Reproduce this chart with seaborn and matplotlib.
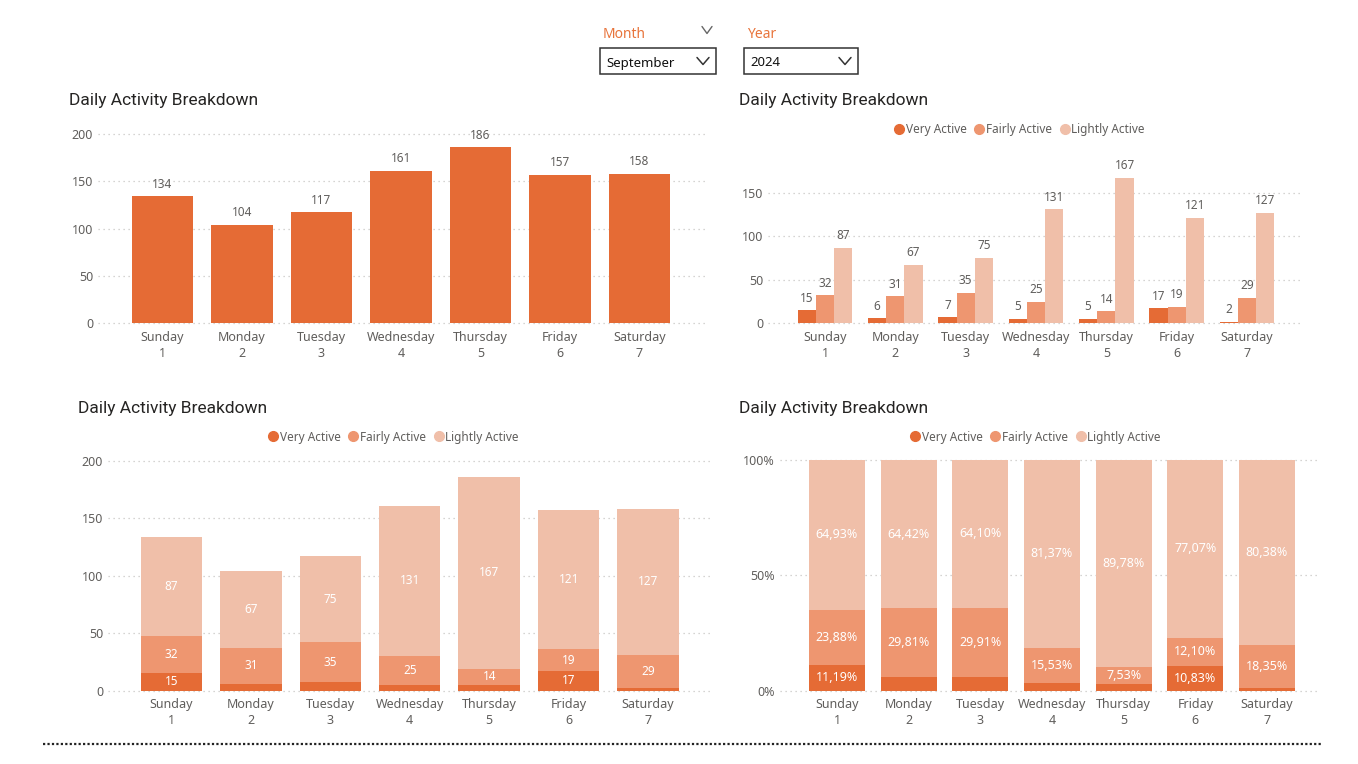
import numpy as np
import pandas as pd
import matplotlib
matplotlib.use("Agg")
import matplotlib.pyplot as plt
from matplotlib.lines import Line2D
from matplotlib.patches import Rectangle
import seaborn as sns

# ---------------- data ----------------
days = ["Sunday", "Monday", "Tuesday", "Wednesday", "Thursday", "Friday", "Saturday"]
day_nums = ["1", "2", "3", "4", "5", "6", "7"]
very_active = [15, 6, 7, 5, 5, 17, 2]
fairly_active = [32, 31, 35, 25, 14, 19, 29]
lightly_active = [87, 67, 75, 131, 167, 121, 127]
series_names = ["Very Active", "Fairly Active", "Lightly Active"]
month_value = "September"
year_value = "2024"

totals = [v + f + l for v, f, l in zip(very_active, fairly_active, lightly_active)]
tick_labels = [f"{d}\n{n}" for d, n in zip(days, day_nums)]

C_VERY = "#E56B35"
C_FAIR = "#EE9670"
C_LIGHT = "#F0BFA9"
palette = [C_VERY, C_FAIR, C_LIGHT]
TXT = "#605E5C"

sns.set_theme(style="white")
plt.rcParams["font.family"] = ["Noto Sans", "DejaVu Sans"]

W, H = 1358, 764
fig = plt.figure(figsize=(W / 100, H / 100), dpi=100)
fig.patch.set_facecolor("white")


def px_axes(left, top, right, bottom):
    return fig.add_axes([left / W, 1 - bottom / H, (right - left) / W, (bottom - top) / H])


def setup(ax, left, right, c0, c6, y0px, toppx, bottompx, scale_units, scale_px):
    sp = (c6 - c0) / 6.0
    ax.set_xlim((left - c0) / sp, (right - c0) / sp)
    per = scale_px / scale_units
    ax.set_ylim((y0px - bottompx) / per, (y0px - toppx) / per)
    for s in ax.spines.values():
        s.set_visible(False)
    ax.set_facecolor("none")
    ax.grid(axis="y", color="#C8C6C4", linestyle=(0, (1, 3)), linewidth=0.9)
    ax.grid(axis="x", visible=False)
    ax.set_axisbelow(True)
    ax.tick_params(axis="both", length=0, colors=TXT, labelsize=9)
    ax.tick_params(axis="x", pad=0.5)
    ax.set_xticks(range(7))
    ax.set_xticklabels(tick_labels, linespacing=1.35)
    ax.set_xlabel("")
    ax.set_ylabel("")


def title(x, y, s):
    fig.text(x / W, 1 - y / H, s, fontsize=12.5, color="#252423", va="center", ha="left",
             family=["Roboto", "DejaVu Sans"])


def legend(ax, cx, cy):
    handles = [Line2D([], [], marker="o", linestyle="", markersize=7, color=c) for c in palette]
    fig.legend(handles, series_names, loc="center", bbox_to_anchor=(cx / W, 1 - cy / H),
               ncol=3, frameon=False, fontsize=8.5, handletextpad=0.05, columnspacing=0.6,
               labelcolor=TXT, handlelength=1.0, borderaxespad=0)


BAR_KW = dict(saturation=1, linewidth=0, edgecolor="none")

df_long = pd.DataFrame({
    "day": days * 3,
    "series": [s for s in series_names for _ in days],
    "value": very_active + fairly_active + lightly_active,
})

# ---------------- top-left: totals ----------------
ax1 = px_axes(98, 115, 705, 330)
df_tot = pd.DataFrame({"day": days, "total": totals})
sns.barplot(data=df_tot, x="day", y="total", order=days, color=C_VERY, width=0.774, ax=ax1, **BAR_KW)
setup(ax1, 98, 705, 162.5, 639.5, 323, 115, 330, 200, 189)
ax1.set_yticks([0, 50, 100, 150, 200])
for c in ax1.containers:
    ax1.bar_label(c, labels=[str(t) for t in totals], padding=4, fontsize=8.5, color=TXT)
title(69, 101, "Daily Activity Breakdown")

# ---------------- top-right: grouped ----------------
ax2 = px_axes(768, 145, 1302, 330)
sns.barplot(data=df_long, x="day", y="value", hue="series", order=days, hue_order=series_names,
            palette=palette, width=0.78, gap=0, ax=ax2, legend=False, **BAR_KW)
setup(ax2, 768, 1302, 825, 1247, 323.3, 145, 330, 150, 130.6)
ax2.set_yticks([0, 50, 100, 150])
for c, vals in zip(ax2.containers, [very_active, fairly_active, lightly_active]):
    ax2.bar_label(c, labels=[str(v) for v in vals], padding=4, fontsize=8.5, color=TXT)
title(739, 101, "Daily Activity Breakdown")
legend(ax2, 1019, 130)

# ---------------- bottom-left: stacked ----------------
ax3 = px_axes(108, 455, 712, 697)
cum_vf = [v + f for v, f in zip(very_active, fairly_active)]
df_st = pd.DataFrame({"day": days, "total": totals, "vf": cum_vf, "v": very_active})
sns.barplot(data=df_st, x="day", y="total", order=days, color=C_LIGHT, width=0.774, ax=ax3, **BAR_KW)
sns.barplot(data=df_st, x="day", y="vf", order=days, color=C_FAIR, width=0.774, ax=ax3, **BAR_KW)
sns.barplot(data=df_st, x="day", y="v", order=days, color=C_VERY, width=0.774, ax=ax3, **BAR_KW)
setup(ax3, 108, 712, 171.5, 648, 690.5, 455, 697, 200, 229.8)
ax3.set_yticks([0, 50, 100, 150, 200])
for i in range(7):
    v, f, l = very_active[i], fairly_active[i], lightly_active[i]
    if v >= 10:
        ax3.text(i, v / 2, str(v), ha="center", va="center", color="white", fontsize=8.5)
    if f >= 10:
        ax3.text(i, v + f / 2, str(f), ha="center", va="center", color="white", fontsize=8.5)
    if l >= 10:
        ax3.text(i, v + f + l / 2, str(l), ha="center", va="center", color="white", fontsize=8.5)
title(78, 408, "Daily Activity Breakdown")
legend(ax3, 393, 437)

# ---------------- bottom-right: 100% stacked ----------------
ax4 = px_axes(780, 455, 1320, 697)
pv = [v / t * 100 for v, t in zip(very_active, totals)]
pf = [f / t * 100 for f, t in zip(fairly_active, totals)]
pl = [l / t * 100 for l, t in zip(lightly_active, totals)]
df_pc = pd.DataFrame({"day": days, "all": [100.0] * 7,
                      "vf": [a + b for a, b in zip(pv, pf)], "v": pv})
sns.barplot(data=df_pc, x="day", y="all", order=days, color=C_LIGHT, width=0.78, ax=ax4, **BAR_KW)
sns.barplot(data=df_pc, x="day", y="vf", order=days, color=C_FAIR, width=0.78, ax=ax4, **BAR_KW)
sns.barplot(data=df_pc, x="day", y="v", order=days, color=C_VERY, width=0.78, ax=ax4, **BAR_KW)
setup(ax4, 780, 1320, 837, 1267, 690.5, 455, 697, 100, 230.5)
ax4.set_yticks([0, 50, 100])
ax4.set_yticklabels(["0%", "50%", "100%"])


def fmt(p):
    return f"{p:.2f}%".replace(".", ",")


for i in range(7):
    if pv[i] >= 7:
        ax4.text(i, pv[i] / 2, fmt(pv[i]), ha="center", va="center", color="white", fontsize=9)
    if pf[i] >= 7:
        ax4.text(i, pv[i] + pf[i] / 2, fmt(pf[i]), ha="center", va="center", color="white", fontsize=9)
    if pl[i] >= 7:
        ax4.text(i, pv[i] + pf[i] + pl[i] / 2, fmt(pl[i]), ha="center", va="center", color="white", fontsize=9)
title(739, 408, "Daily Activity Breakdown")
legend(ax4, 1035, 437)

# ---------------- slicers ----------------
def fx(x):
    return x / W


def fy(y):
    return 1 - y / H


def chevron(cx, cy, w=6, h=4, color="#333333", lw=1.0):
    fig.add_artist(Line2D([fx(cx - w), fx(cx), fx(cx + w)], [fy(cy - h), fy(cy + h), fy(cy - h)],
                          color=color, linewidth=lw, transform=fig.transFigure))


SL = "#E8743B"
fig.text(fx(603), fy(34.5), "Month", color=SL, fontsize=10, fontweight="semibold", va="center", ha="left")
fig.text(fx(747), fy(34.5), "Year", color=SL, fontsize=10, fontweight="semibold", va="center", ha="left")
chevron(707, 30, w=5, h=3.5, color="#666666")
for (x0, x1, label) in [(600, 716, month_value), (744, 858, year_value)]:
    fig.add_artist(Rectangle((fx(x0), fy(74)), fx(x1) - fx(x0), fy(48) - fy(74),
                             transform=fig.transFigure, fill=False, edgecolor="#333333", linewidth=1.1))
    fig.text(fx(x0 + 6), fy(63), label, color="#111111", fontsize=9.5, va="center", ha="left")
    chevron(x1 - 13, 61, w=6, h=3.5, color="#333333", lw=1.1)

# bottom dotted separator
fig.add_artist(Line2D([fx(43), fx(1321)], [fy(744), fy(744)], color="#222222", linewidth=1.6,
                      linestyle=(0, (1, 1)), transform=fig.transFigure))

fig.savefig("out.png", dpi=100, facecolor="white")
